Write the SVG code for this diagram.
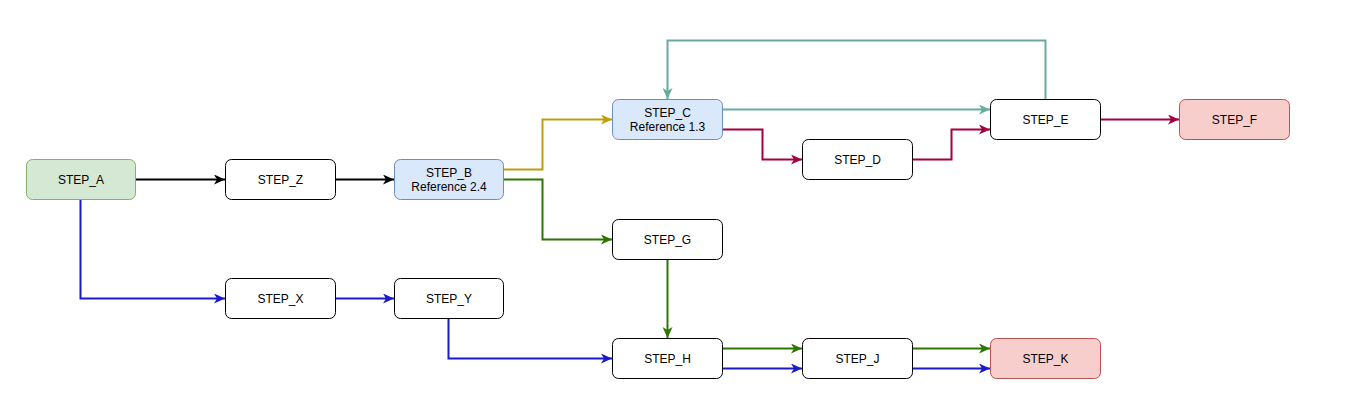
<svg xmlns="http://www.w3.org/2000/svg" width="1358" height="401" viewBox="0 0 1358 401">
<style>
.n rect{stroke-width:1}
.w{fill:#ffffff;stroke:#000000}
.g{fill:#d5e8d4;stroke:#82b366}
.b{fill:#dae8fc;stroke:#6c8ebf}
.r{fill:#f8cecc;stroke:#b85450}
text{font-family:"Liberation Sans",Arial,sans-serif;font-size:12px;fill:#000;text-anchor:middle}
.e{fill:none;stroke-width:2}
</style>
<defs>
<marker id="mk" markerUnits="userSpaceOnUse" markerWidth="11" markerHeight="10" refX="11" refY="5" orient="auto"><path d="M0,0 L11,5 L0,10 L3,5 z" fill="#000000"/></marker>
<marker id="mbl" markerUnits="userSpaceOnUse" markerWidth="11" markerHeight="10" refX="11" refY="5" orient="auto"><path d="M0,0 L11,5 L0,10 L3,5 z" fill="#1a1ac9"/></marker>
<marker id="mgo" markerUnits="userSpaceOnUse" markerWidth="11" markerHeight="10" refX="11" refY="5" orient="auto"><path d="M0,0 L11,5 L0,10 L3,5 z" fill="#bf9d0c"/></marker>
<marker id="mgr" markerUnits="userSpaceOnUse" markerWidth="11" markerHeight="10" refX="11" refY="5" orient="auto"><path d="M0,0 L11,5 L0,10 L3,5 z" fill="#2d7600"/></marker>
<marker id="mte" markerUnits="userSpaceOnUse" markerWidth="11" markerHeight="10" refX="11" refY="5" orient="auto"><path d="M0,0 L11,5 L0,10 L3,5 z" fill="#67ab9f"/></marker>
<marker id="mre" markerUnits="userSpaceOnUse" markerWidth="11" markerHeight="10" refX="11" refY="5" orient="auto"><path d="M0,0 L11,5 L0,10 L3,5 z" fill="#a50040"/></marker>
</defs>
<rect width="1358" height="401" fill="#ffffff"/>
<g id="connectors">
<path class="e" stroke="#000000" marker-end="url(#mk)" d="M135.5,179.5 L225,179.5"/>
<path class="e" stroke="#000000" marker-end="url(#mk)" d="M335.5,179.5 L394,179.5"/>
<path class="e" stroke="#1a1ac9" marker-end="url(#mbl)" d="M80.5,199.5 L80.5,298.5 L225,298.5"/>
<path class="e" stroke="#1a1ac9" marker-end="url(#mbl)" d="M335.5,298.5 L394,298.5"/>
<path class="e" stroke="#1a1ac9" marker-end="url(#mbl)" d="M448.5,318.5 L448.5,358.5 L612,358.5"/>
<path class="e" stroke="#bf9d0c" marker-end="url(#mgo)" d="M503.5,169.5 L542.5,169.5 L542.5,119.5 L612,119.5"/>
<path class="e" stroke="#2d7600" marker-end="url(#mgr)" d="M503.5,179.5 L542.5,179.5 L542.5,239.5 L612,239.5"/>
<path class="e" stroke="#67ab9f" marker-end="url(#mte)" d="M722.5,109.5 L990,109.5"/>
<path class="e" stroke="#67ab9f" marker-end="url(#mte)" d="M1045.5,99.5 L1045.5,40.5 L667.5,40.5 L667.5,99"/>
<path class="e" stroke="#a50040" marker-end="url(#mre)" d="M722.5,129.5 L762.5,129.5 L762.5,159.5 L802,159.5"/>
<path class="e" stroke="#a50040" marker-end="url(#mre)" d="M912.5,159.5 L951.5,159.5 L951.5,129.5 L990,129.5"/>
<path class="e" stroke="#a50040" marker-end="url(#mre)" d="M1100.5,119.5 L1179,119.5"/>
<path class="e" stroke="#2d7600" marker-end="url(#mgr)" d="M667.5,259.5 L667.5,338"/>
<path class="e" stroke="#2d7600" marker-end="url(#mgr)" d="M722.5,348.5 L802,348.5"/>
<path class="e" stroke="#1a1ac9" marker-end="url(#mbl)" d="M722.5,368.5 L802,368.5"/>
<path class="e" stroke="#2d7600" marker-end="url(#mgr)" d="M912.5,348.5 L990,348.5"/>
<path class="e" stroke="#1a1ac9" marker-end="url(#mbl)" d="M912.5,368.5 L990,368.5"/>
</g>
<g id="STEP_A" class="n"><rect class="g" x="26.5" y="159.5" width="109" height="40" rx="6"/><text x="81" y="183.5">STEP_A</text></g>
<g id="STEP_Z" class="n"><rect class="w" x="225.5" y="159.5" width="110" height="40" rx="6"/><text x="280.5" y="183.5">STEP_Z</text></g>
<g id="STEP_B" class="n"><rect class="b" x="394.5" y="159.5" width="109" height="40" rx="6"/><text x="449" y="176.5">STEP_B</text><text x="449" y="190.5">Reference 2.4</text></g>
<g id="STEP_C" class="n"><rect class="b" x="612.5" y="99.5" width="110" height="40" rx="6"/><text x="667.5" y="116.5">STEP_C</text><text x="667.5" y="130.5">Reference 1.3</text></g>
<g id="STEP_D" class="n"><rect class="w" x="802.5" y="139.5" width="110" height="40" rx="6"/><text x="857.5" y="163.5">STEP_D</text></g>
<g id="STEP_E" class="n"><rect class="w" x="990.5" y="99.5" width="110" height="40" rx="6"/><text x="1045.5" y="123.5">STEP_E</text></g>
<g id="STEP_F" class="n"><rect class="r" x="1179.5" y="99.5" width="110" height="40" rx="6"/><text x="1234.5" y="123.5">STEP_F</text></g>
<g id="STEP_G" class="n"><rect class="w" x="612.5" y="219.5" width="110" height="40" rx="6"/><text x="667.5" y="243.5">STEP_G</text></g>
<g id="STEP_X" class="n"><rect class="w" x="225.5" y="278.5" width="110" height="40" rx="6"/><text x="280.5" y="302.5">STEP_X</text></g>
<g id="STEP_Y" class="n"><rect class="w" x="394.5" y="278.5" width="109" height="40" rx="6"/><text x="449" y="302.5">STEP_Y</text></g>
<g id="STEP_H" class="n"><rect class="w" x="612.5" y="338.5" width="110" height="40" rx="6"/><text x="667.5" y="362.5">STEP_H</text></g>
<g id="STEP_J" class="n"><rect class="w" x="802.5" y="338.5" width="110" height="40" rx="6"/><text x="857.5" y="362.5">STEP_J</text></g>
<g id="STEP_K" class="n"><rect class="r" x="990.5" y="338.5" width="110" height="40" rx="6"/><text x="1045.5" y="362.5">STEP_K</text></g>
</svg>
